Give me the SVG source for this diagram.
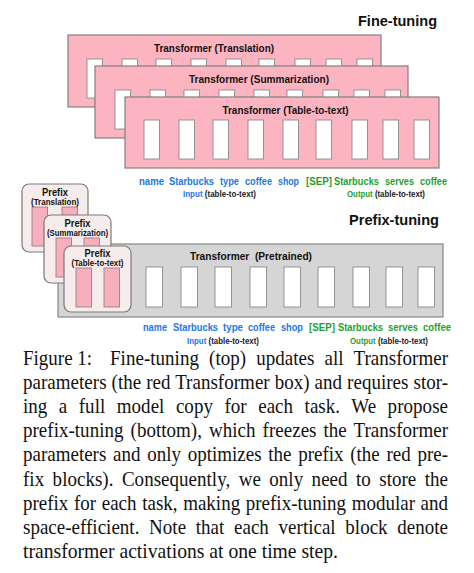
<svg xmlns="http://www.w3.org/2000/svg" width="474" height="573" viewBox="0 0 474 573">
<style>
.bg{fill:#ffffff}
.tbox{fill:#fdb4c1;stroke:#808080;stroke-width:1.2}
.gbox{fill:#d5d5d5;stroke:#888888;stroke-width:1.2}
.blk{fill:#ffffff;stroke:#8a8a8a;stroke-width:0.9}
.pbox{fill:#f6ecec;stroke:#7a7a7a;stroke-width:1.2}
.pblk{fill:#f8afbd;stroke:#9a7e83;stroke-width:0.9}
.lbl{font-family:"Liberation Sans",Arial,sans-serif;font-weight:bold;fill:#111}
.tl{font-size:10.6px;text-anchor:middle}
.ttl{font-size:15.5px}
.pf{font-size:10.6px;text-anchor:middle}
.ps{font-size:8.2px;text-anchor:middle}
.tok{font-family:"Liberation Sans",Arial,sans-serif;font-weight:bold;font-size:10.4px}
.bl{fill:#2477e3}
.gr{fill:#1fa131}
.sub{font-family:"Liberation Sans",Arial,sans-serif;font-weight:bold;font-size:8.6px;fill:#222}
.cap{font-family:"Liberation Serif","Times New Roman",serif;font-size:20px;fill:#111}
</style>
<defs>
<g id="blocks9">
<rect class="blk" x="0" y="0" width="15.5" height="39"/>
<rect class="blk" x="35" y="0" width="15.5" height="39"/>
<rect class="blk" x="69" y="0" width="15.5" height="39"/>
<rect class="blk" x="104" y="0" width="15.5" height="39"/>
<rect class="blk" x="139" y="0" width="15.5" height="39"/>
<rect class="blk" x="172" y="0" width="15.5" height="39"/>
<rect class="blk" x="208" y="0" width="15.5" height="39"/>
<rect class="blk" x="239" y="0" width="15.5" height="39"/>
<rect class="blk" x="270" y="0" width="15.5" height="39"/>
</g>
</defs>
<rect class="bg" x="0" y="0" width="474" height="573"/>

<text class="lbl ttl" x="358" y="25.5" textLength="79" lengthAdjust="spacingAndGlyphs">Fine-tuning</text>

<g id="ft-translation">
<rect class="tbox" x="68" y="35" width="313" height="72"/>
<use href="#blocks9" x="87" y="59"/>
<text class="lbl tl" x="214" y="51.5" textLength="120" lengthAdjust="spacingAndGlyphs">Transformer (Translation)</text>
</g>
<g id="ft-summarization">
<rect class="tbox" x="95" y="66" width="313" height="72"/>
<use href="#blocks9" x="115" y="90"/>
<text class="lbl tl" x="259" y="82.5" textLength="140" lengthAdjust="spacingAndGlyphs">Transformer (Summarization)</text>
</g>
<g id="ft-table">
<rect class="tbox" x="125" y="97" width="314" height="71"/>
<use href="#blocks9" x="144" y="120"/>
<text class="lbl tl" x="285.5" y="113.5" textLength="126" lengthAdjust="spacingAndGlyphs">Transformer (Table-to-text)</text>
</g>

<g id="ft-tokens">
<text class="tok bl" x="139" y="184.5" textLength="25" lengthAdjust="spacingAndGlyphs">name</text>
<text class="tok bl" x="169" y="184.5" textLength="45" lengthAdjust="spacingAndGlyphs">Starbucks</text>
<text class="tok bl" x="220" y="184.5" textLength="19" lengthAdjust="spacingAndGlyphs">type</text>
<text class="tok bl" x="245" y="184.5" textLength="27" lengthAdjust="spacingAndGlyphs">coffee</text>
<text class="tok bl" x="278" y="184.5" textLength="21" lengthAdjust="spacingAndGlyphs">shop</text>
<text class="tok gr" x="306" y="184.5" textLength="26" lengthAdjust="spacingAndGlyphs">[SEP]</text>
<text class="tok gr" x="334" y="184.5" textLength="45" lengthAdjust="spacingAndGlyphs">Starbucks</text>
<text class="tok gr" x="385" y="184.5" textLength="29" lengthAdjust="spacingAndGlyphs">serves</text>
<text class="tok gr" x="420" y="184.5" textLength="27" lengthAdjust="spacingAndGlyphs">coffee</text>
<text class="sub" x="183" y="197" textLength="73" lengthAdjust="spacingAndGlyphs"><tspan class="bl">Input</tspan> (table-to-text)</text>
<text class="sub" x="347" y="197" textLength="78" lengthAdjust="spacingAndGlyphs"><tspan class="gr">Output</tspan> (table-to-text)</text>
</g>

<text class="lbl ttl" x="349" y="225" textLength="90" lengthAdjust="spacingAndGlyphs">Prefix-tuning</text>

<g id="pt-transformer">
<rect class="gbox" x="58" y="244" width="385" height="73"/>
<rect class="blk" x="146" y="267" width="16.5" height="40"/>
<rect class="blk" x="181" y="267" width="16.5" height="40"/>
<rect class="blk" x="215" y="267" width="16.5" height="40"/>
<rect class="blk" x="250" y="267" width="16.5" height="40"/>
<rect class="blk" x="284" y="267" width="16.5" height="40"/>
<rect class="blk" x="318" y="267" width="16.5" height="40"/>
<rect class="blk" x="353" y="267" width="16.5" height="40"/>
<rect class="blk" x="386" y="267" width="16.5" height="40"/>
<rect class="blk" x="418" y="267" width="16.5" height="40"/>
<text class="lbl tl" x="251" y="260" xml:space="preserve" textLength="122" lengthAdjust="spacingAndGlyphs">Transformer  (Pretrained)</text>
</g>

<g id="prefix-translation">
<rect class="pbox" x="22" y="184" width="66" height="68" rx="7"/>
<rect class="pblk" x="32" y="207" width="15.5" height="39"/>
<rect class="pblk" x="62" y="207" width="15.5" height="39"/>
<text class="lbl pf" x="55" y="196" textLength="26" lengthAdjust="spacingAndGlyphs">Prefix</text>
<text class="lbl ps" x="55" y="204.5" textLength="48" lengthAdjust="spacingAndGlyphs">(Translation)</text>
</g>
<g id="prefix-summarization">
<rect class="pbox" x="44" y="215" width="67" height="68" rx="7"/>
<rect class="pblk" x="56" y="238" width="15.5" height="39"/>
<rect class="pblk" x="84" y="238" width="15.5" height="39"/>
<text class="lbl pf" x="77.5" y="227" textLength="26" lengthAdjust="spacingAndGlyphs">Prefix</text>
<text class="lbl ps" x="77.5" y="235.5" textLength="61" lengthAdjust="spacingAndGlyphs">(Summarization)</text>
</g>
<g id="prefix-table">
<rect class="pbox" x="64" y="246" width="67" height="66" rx="7"/>
<rect class="pblk" x="76" y="268" width="15.5" height="39"/>
<rect class="pblk" x="104" y="268" width="15.5" height="39"/>
<text class="lbl pf" x="97.5" y="257" textLength="26" lengthAdjust="spacingAndGlyphs">Prefix</text>
<text class="lbl ps" x="97.5" y="265.5" textLength="52" lengthAdjust="spacingAndGlyphs">(Table-to-text)</text>
</g>

<g id="pt-tokens">
<text class="tok bl" x="143" y="331" textLength="24" lengthAdjust="spacingAndGlyphs">name</text>
<text class="tok bl" x="173" y="331" textLength="45" lengthAdjust="spacingAndGlyphs">Starbucks</text>
<text class="tok bl" x="223" y="331" textLength="20" lengthAdjust="spacingAndGlyphs">type</text>
<text class="tok bl" x="248" y="331" textLength="27" lengthAdjust="spacingAndGlyphs">coffee</text>
<text class="tok bl" x="281" y="331" textLength="22" lengthAdjust="spacingAndGlyphs">shop</text>
<text class="tok gr" x="309" y="331" textLength="26" lengthAdjust="spacingAndGlyphs">[SEP]</text>
<text class="tok gr" x="338" y="331" textLength="45" lengthAdjust="spacingAndGlyphs">Starbucks</text>
<text class="tok gr" x="388" y="331" textLength="30" lengthAdjust="spacingAndGlyphs">serves</text>
<text class="tok gr" x="423" y="331" textLength="28" lengthAdjust="spacingAndGlyphs">coffee</text>
<text class="sub" x="187" y="344" textLength="72" lengthAdjust="spacingAndGlyphs"><tspan class="bl">Input</tspan> (table-to-text)</text>
<text class="sub" x="350" y="344" textLength="78" lengthAdjust="spacingAndGlyphs"><tspan class="gr">Output</tspan> (table-to-text)</text>
</g>

<g id="connectors"></g>

<g id="caption" transform="scale(0.95,1)">
<text class="cap" x="24.2" y="365">Figure 1:</text>
<text class="cap" x="115.8" y="365" textLength="355.8" lengthAdjust="spacing" word-spacing="5.6">Fine-tuning (top) updates all Transformer</text>
<text class="cap" x="24.2" y="389.1" textLength="447.4" lengthAdjust="spacing" word-spacing="0.2">parameters (the red Transformer box) and requires stor-</text>
<text class="cap" x="24.2" y="413.2" textLength="447.4" lengthAdjust="spacing" word-spacing="7">ing a full model copy for each task. We propose</text>
<text class="cap" x="24.2" y="437.4" textLength="447.4" lengthAdjust="spacing" word-spacing="2.4">prefix-tuning (bottom), which freezes the Transformer</text>
<text class="cap" x="24.2" y="461.5" textLength="447.4" lengthAdjust="spacing" word-spacing="2.05">parameters and only optimizes the prefix (the red pre-</text>
<text class="cap" x="24.2" y="485.6" textLength="447.4" lengthAdjust="spacing" word-spacing="3.85">fix blocks). Consequently, we only need to store the</text>
<text class="cap" x="24.2" y="509.7" textLength="447.4" lengthAdjust="spacing" word-spacing="0.9">prefix for each task, making prefix-tuning modular and</text>
<text class="cap" x="24.2" y="533.9" textLength="447.4" lengthAdjust="spacing" word-spacing="5.2">space-efficient. Note that each vertical block denote</text>
<text class="cap" x="24.2" y="558" textLength="331.6" lengthAdjust="spacingAndGlyphs">transformer activations at one time step.</text>
</g>
</svg>
